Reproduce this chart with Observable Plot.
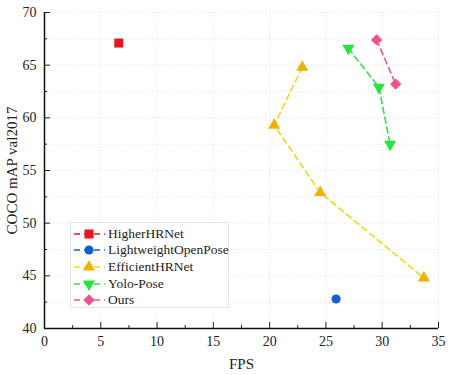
<!DOCTYPE html>
<html><head><meta charset="utf-8">
<script src="https://cdn.jsdelivr.net/npm/d3@7"></script>
<script src="https://cdn.jsdelivr.net/npm/@observablehq/plot@0.6"></script>
<style>
body{margin:0;background:#fff;}
#wrap{position:relative;width:474px;height:375px;font-family:"Liberation Serif","DejaVu Serif",serif;}
#legend{position:absolute;left:70px;top:222px;width:157px;height:84px;border:1px solid #e4e4e4;background:#fff;}
.row{position:absolute;left:0;height:17px;display:flex;align-items:center;font-size:13.5px;color:#222;}
.row svg{margin-left:2px;margin-right:3px;}
</style></head>
<body><div id="wrap"><div id="legend"></div></div>
<script>
const seriesNames = ["HigherHRNet","LightweightOpenPose","EfficientHRNet","Yolo-Pose","Ours"];
const higherFPS = [6.6];            const higherAP = [67.1];
const lightFPS = [25.9];            const lightAP = [42.8];
const effFPS = [22.9, 20.4, 24.5, 33.7]; const effAP = [64.8, 59.3, 52.9, 44.8];
const yoloFPS = [27.0, 29.7, 30.7]; const yoloAP = [66.6, 62.9, 57.5];
const oursFPS = [29.5, 31.2];       const oursAP = [67.4, 63.2];
const xTicks = [0,5,10,15,20,25,30,35];
const yTicks = [40,45,50,55,60,65,70];

const markerColors = ["#e8141e","#1460c8","#f2b000","#22e63c","#f0508c"];
const lineColors   = ["#e8141e","#1460c8","#f0d818","#30e050","#d8609a"];

const triDown = {draw(ctx, size){const s=Math.sqrt(size/ (Math.sqrt(3)/4)); const h=s*Math.sqrt(3)/2; ctx.moveTo(-s/2,-h/3); ctx.lineTo(s/2,-h/3); ctx.lineTo(0,2*h/3); ctx.closePath();}};
const triUp = {draw(ctx, size){const s=Math.sqrt(size/ (Math.sqrt(3)/4)); const h=s*Math.sqrt(3)/2; ctx.moveTo(-s/2,h/3); ctx.lineTo(s/2,h/3); ctx.lineTo(0,-2*h/3); ctx.closePath();}};
const diamond = {draw(ctx, size){const a=Math.sqrt(size/2); ctx.moveTo(0,-a); ctx.lineTo(a,0); ctx.lineTo(0,a); ctx.lineTo(-a,0); ctx.closePath();}};
const square = {draw(ctx, size){const a=Math.sqrt(size)/2; ctx.rect(-a,-a,2*a,2*a);}};
const circle = {draw(ctx, size){const r=Math.sqrt(size/Math.PI); ctx.moveTo(r,0); ctx.arc(0,0,r,0,2*Math.PI);}};
const symbols = [square, circle, triUp, triDown, diamond];
const rs = [5.1, 4.6, 4.5, 4.5, 4.5];

const series = [
  [higherFPS, higherAP],[lightFPS, lightAP],[effFPS, effAP],[yoloFPS, yoloAP],[oursFPS, oursAP]
].map(([xs, ys], i) => xs.map((x, j) => ({fps: x, ap: ys[j], s: i})));

const minorY = d3.range(42.5, 70, 5);
const minorX = d3.range(2.5, 35, 5);
const gridY = d3.range(42.5, 70.01, 2.5);
const gridX = [5,10,15,20,25,30,35];

const marks = [
  Plot.ruleY(gridY, {stroke: "#dadada", strokeDasharray: "1,2", strokeWidth: 0.8}),
  Plot.ruleX(gridX, {stroke: "#dadada", strokeDasharray: "1,2", strokeWidth: 0.8}),
  Plot.axisX({ticks: xTicks, tickSize: -6, tickPadding: 14, fontSize: 14, label: "FPS", labelAnchor: "center", labelOffset: 40, labelArrow: "none", stroke: "#222"}),
  Plot.axisX({ticks: minorX, tickSize: -3, tickFormat: () => "", label: null, stroke: "#222"}),
  Plot.axisY({ticks: yTicks, tickSize: -6, tickPadding: 14, fontSize: 14, label: "COCO mAP val2017", labelAnchor: "center", labelOffset: 38, labelArrow: "none", stroke: "#222"}),
  Plot.axisY({ticks: minorY, tickSize: -3, tickFormat: () => "", label: null, stroke: "#222"}),
];
series.forEach((data, i) => {
  if (data.length > 1) marks.push(Plot.line(data, {x: "fps", y: "ap", stroke: lineColors[i], strokeWidth: 1.6, strokeDasharray: "6,4"}));
});
series.forEach((data, i) => {
  marks.push(Plot.dot(data, {x: "fps", y: "ap", symbol: symbols[i], r: rs[i], fill: markerColors[i], stroke: "none"}));
});
marks.push(Plot.ruleY([40], {stroke: "#111", strokeWidth: 1.5}));
marks.push(Plot.ruleX([0], {stroke: "#111", strokeWidth: 1.5}));

const chart = Plot.plot({
  width: 474, height: 375,
  marginLeft: 44, marginRight: 36, marginTop: 12, marginBottom: 47,
  x: {domain: [0, 35]},
  y: {domain: [40, 70]},
  style: {fontFamily: "'Liberation Serif', 'DejaVu Serif', serif", fontSize: "14px", color: "#222", background: "#fff"},
  marks
});
chart.querySelectorAll("[aria-label='x-axis label'] text, [aria-label='y-axis label'] text").forEach(t => t.setAttribute("font-size", "15"));
const wrap = document.getElementById("wrap");
wrap.insertBefore(chart, wrap.firstChild);

const legend = document.getElementById("legend");
seriesNames.forEach((name, i) => {
  const row = document.createElement("div");
  row.className = "row";
  row.style.top = (2 + i * 16.7) + "px";
  const ns = "http://www.w3.org/2000/svg";
  const sv = document.createElementNS(ns, "svg");
  sv.setAttribute("width", 32); sv.setAttribute("height", 14);
  const ln = document.createElementNS(ns, "line");
  ln.setAttribute("x1", 0); ln.setAttribute("x2", 32); ln.setAttribute("y1", 7); ln.setAttribute("y2", 7);
  ln.setAttribute("stroke", lineColors[i]); ln.setAttribute("stroke-width", 1.6); ln.setAttribute("stroke-dasharray", "6,4");
  ln.setAttribute("stroke-dashoffset", "-1");
  sv.appendChild(ln);
  const p = d3.path(); symbols[i].draw(p, Math.PI * rs[i] * rs[i]);
  const pt = document.createElementNS(ns, "path");
  pt.setAttribute("d", p.toString()); pt.setAttribute("transform", "translate(16,7)");
  pt.setAttribute("fill", markerColors[i]);
  sv.appendChild(pt);
  row.appendChild(sv);
  const sp = document.createElement("span"); sp.textContent = name;
  row.appendChild(sp);
  legend.appendChild(row);
});
</script></body></html>
